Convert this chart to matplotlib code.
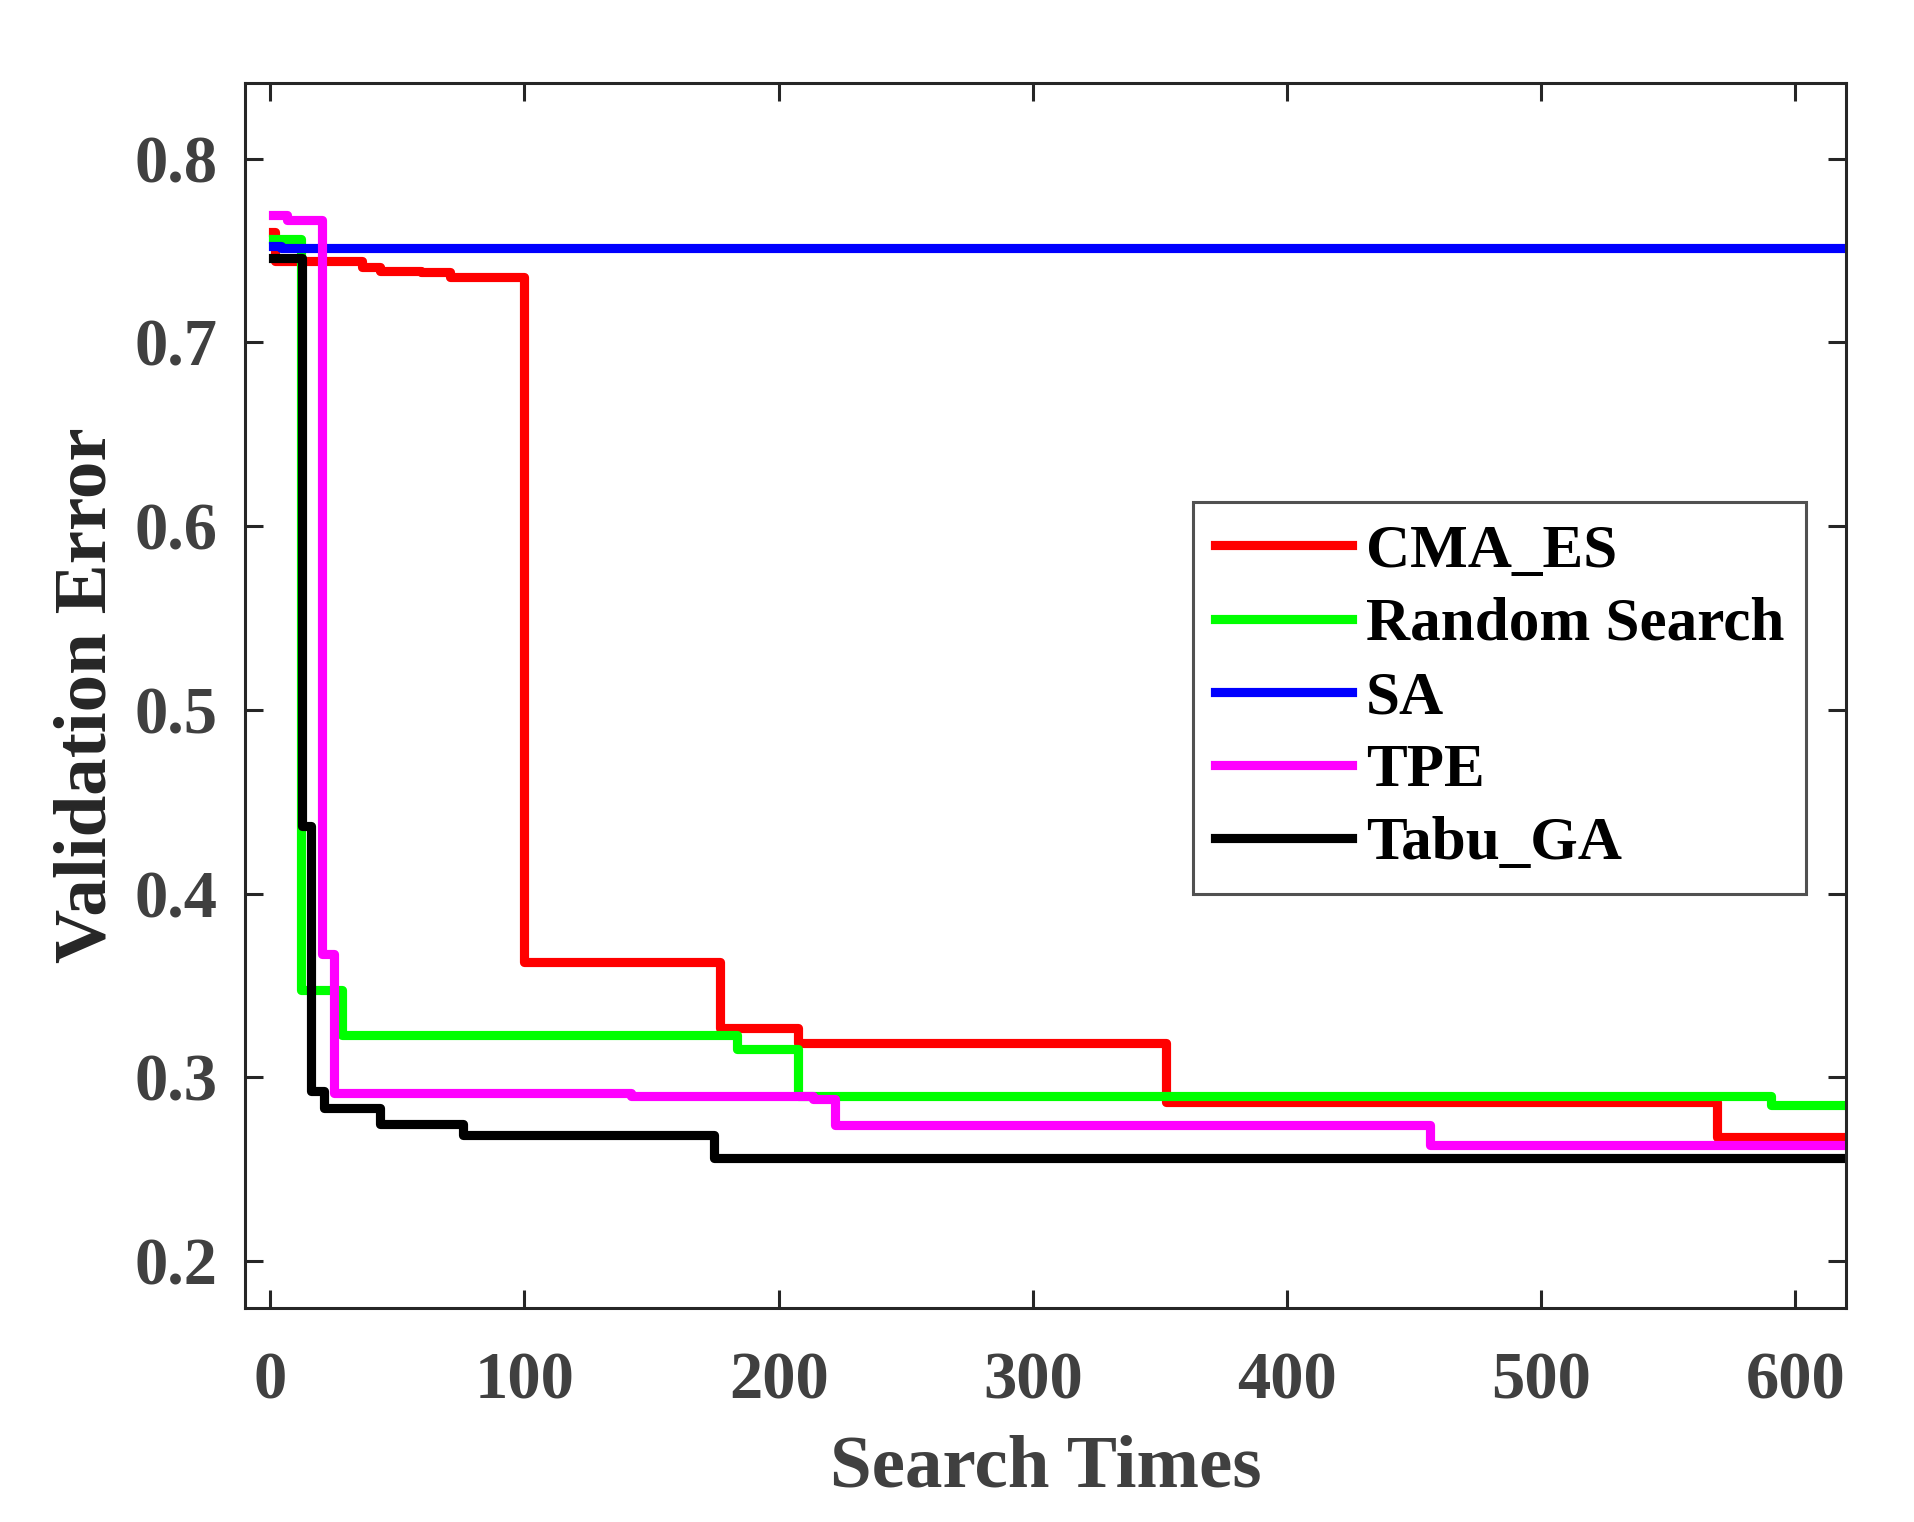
import matplotlib
matplotlib.use('Agg')
import matplotlib.pyplot as plt

# step change points (search time) and best validation error after each change
cma_x = [1, 2, 36, 43, 59.4, 70.6, 100, 177, 207.6, 352.4, 569.1, 620]
cma_y = [0.760, 0.7443, 0.7409, 0.7390, 0.7382, 0.7358, 0.3629, 0.3269, 0.3188, 0.2865, 0.2673, 0.2673]

rs_x = [1, 12, 28, 183.6, 207.6, 590.3, 620]
rs_y = [0.7565, 0.3475, 0.3231, 0.3153, 0.2898, 0.2849, 0.2849]

sa_x = [1, 4, 620]
sa_y = [0.7525, 0.7512, 0.7512]

tpe_x = [1, 6.4, 20.5, 25, 142, 213.5, 222, 456.4, 620]
tpe_y = [0.7691, 0.7669, 0.367, 0.2912, 0.2896, 0.288, 0.274, 0.2631, 0.2631]

tabu_x = [1, 12.5, 16, 21, 43, 76, 174.4, 620]
tabu_y = [0.7458, 0.437, 0.2925, 0.2834, 0.2747, 0.2685, 0.2562, 0.2562]

series = [
    ('CMA_ES', cma_x, cma_y, '#ff0000'),
    ('Random Search', rs_x, rs_y, '#00ff00'),
    ('SA', sa_x, sa_y, '#0000ff'),
    ('TPE', tpe_x, tpe_y, '#ff00ff'),
    ('Tabu_GA', tabu_x, tabu_y, '#000000'),
]

x_ticks = [0, 100, 200, 300, 400, 500, 600]
y_ticks = [0.2, 0.3, 0.4, 0.5, 0.6, 0.7, 0.8]

plt.rcParams['font.family'] = ['Liberation Serif', 'DejaVu Serif']
plt.rcParams['font.weight'] = 'bold'

fig = plt.figure(figsize=(9.575, 7.61), dpi=200)
ax = fig.add_axes([0.1279, 0.1404, 0.9640 - 0.1279, 0.9457 - 0.1404])

for name, xs, ys, col in series:
    ax.plot(xs, ys, drawstyle='steps-post', color=col, lw=3.3, label=name)

ax.set_xlim(-10, 620)
ax.set_ylim(0.1742, 0.8414)
ax.set_xticks(x_ticks)
ax.set_yticks(y_ticks)
ax.set_xticklabels([str(t) for t in x_ticks])
ax.set_yticklabels(['%.1f' % t for t in y_ticks])

for sp in ax.spines.values():
    sp.set_color('#262626')
    sp.set_linewidth(1.1)

ax.tick_params(axis='both', direction='in', length=6.5, width=1.1,
               color='#262626', labelcolor='#404040', labelsize=24,
               top=True, right=True)
ax.tick_params(axis='x', pad=15.5)
ax.tick_params(axis='y', pad=10)

ax.set_xlabel('Search Times', fontsize=27, color='#404040', fontweight='bold')
ax.set_ylabel('Validation Error', fontsize=27, color='#262626', fontweight='bold')
ax.xaxis.set_label_coords(0.5, -0.1026)
ax.yaxis.set_label_coords(-0.0768, 0.5)

leg = ax.legend(loc='upper left', bbox_to_anchor=(0.592, 0.658), borderaxespad=0,
                fontsize=22, frameon=True, fancybox=False, handlelength=2.25,
                handletextpad=0.22, labelspacing=0.28, borderpad=0.36)
leg.get_frame().set_edgecolor('#262626')
leg.get_frame().set_linewidth(1.1)
for t in leg.get_texts():
    t.set_color('black')
    t.set_fontweight('bold')

fig.savefig('out.png', dpi=200, facecolor='white')
